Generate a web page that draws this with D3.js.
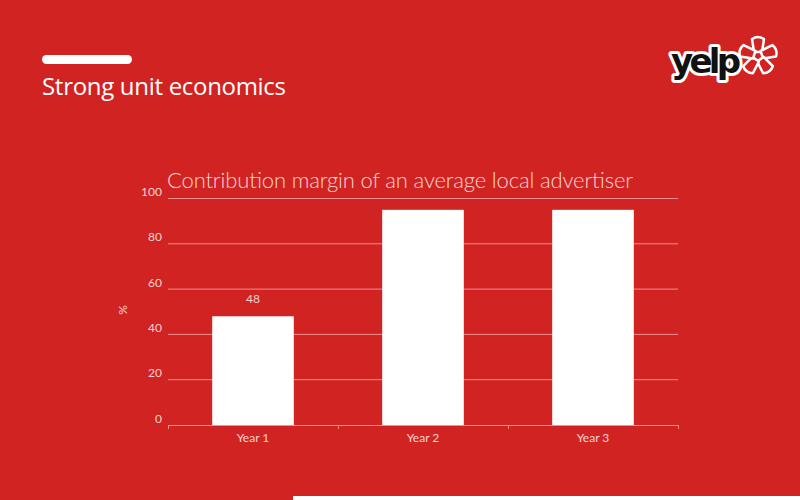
<!DOCTYPE html>
<html><head><meta charset="utf-8">
<script src="https://cdn.jsdelivr.net/npm/d3@7"></script>
<style>body{margin:0;background:#d22323;}svg{display:block;}</style>
</head><body>
<svg id="c" width="800" height="500"></svg>
<script>
const categories = ["Year 1", "Year 2", "Year 3"];
const values = [48, 95, 95];
const yTicks = [0, 20, 40, 60, 80, 100];
const pageTitle = "Strong unit economics";
const chartTitle = "Contribution margin of an average local advertiser";
const yLabel = "%";

const svg = d3.select("#c");
const W = 800, H = 500;
svg.append("rect").attr("width", W).attr("height", H).attr("fill", "#d22323");

// header bar + title
svg.append("rect").attr("x", 42).attr("y", 55).attr("width", 90).attr("height", 9).attr("rx", 4.5).attr("fill", "#fff");
svg.append("text").attr("x", 42).attr("y", 95).attr("fill", "#fff")
  .attr("font-family", "'Open Sans', sans-serif").attr("font-size", 24).attr("font-weight", 400)
  .attr("textLength", 244).text(pageTitle);

// bottom white strip
svg.append("rect").attr("x", 293).attr("y", 496).attr("width", 507).attr("height", 4).attr("fill", "#fff");

// logo
const logo = svg.append("g");
logo.append("text").attr("x", 671).attr("y", 73).attr("font-family", "'DejaVu Sans', sans-serif")
  .attr("font-weight", 700).attr("font-size", 34).attr("fill", "none").attr("stroke", "#fff")
  .attr("stroke-width", 6).attr("stroke-linejoin", "round").attr("textLength", 70).text("yelp");
logo.append("text").attr("x", 671).attr("y", 73).attr("font-family", "'DejaVu Sans', sans-serif")
  .attr("font-weight", 700).attr("font-size", 34).attr("fill", "#111").attr("textLength", 70).text("yelp");
const bx = 758, by = 56;
[-90, -18, 54, 126, 198].forEach((a) => {
  const g = logo.append("g").attr("transform", `translate(${bx},${by}) rotate(${a})`);
  g.append("path").attr("d", "M4,-4 L17,-6 Q21,0 17,6 L4,4 Z")
    .attr("fill", "#d22323").attr("stroke", "#fff").attr("stroke-width", 2.5).attr("stroke-linejoin", "round");
});

// chart
const x = d3.scaleBand().domain(categories).range([168, 678]).paddingInner(0.52).paddingOuter(0.26);
const y = d3.scaleLinear().domain([0, 100]).range([425, 198.5]);

const textCol = "#f6d3d3";
const font = "Lato, 'Open Sans', sans-serif";

svg.append("text").attr("x", 167).attr("y", 188).attr("fill", textCol)
  .attr("font-family", font).attr("font-weight", 300).attr("font-size", 22)
  .attr("textLength", 466).text(chartTitle);

// gridlines
svg.append("g").selectAll("line").data(yTicks.filter(t => t > 0)).join("line")
  .attr("x1", 168).attr("x2", 678).attr("y1", d => y(d)).attr("y2", d => y(d))
  .attr("stroke", "#ec8f8f").attr("stroke-width", 1);

// y axis labels
const yAxis = d3.axisLeft(y).tickValues(yTicks).tickSize(0).tickPadding(6);
const ya = svg.append("g").attr("transform", "translate(168,0)").call(yAxis);
ya.select(".domain").remove();
ya.selectAll("text").attr("fill", textCol).attr("font-family", font).attr("font-size", 12).attr("dy", "-0.25em");

// y label
svg.append("text").attr("transform", "translate(127,310) rotate(-90)").attr("text-anchor", "middle")
  .attr("fill", textCol).attr("font-family", font).attr("font-size", 12).text(yLabel);

// value labels (drawn under bars; clamped to plot top so they sit behind tall bars, as in the original)
svg.append("g").selectAll("text").data(values).join("text")
  .attr("x", (d, i) => x(categories[i]) + x.bandwidth() / 2)
  .attr("y", d => Math.max(y(d) - 13, y(100) + 24))
  .attr("text-anchor", "middle").attr("fill", textCol).attr("font-family", font).attr("font-size", 12)
  .text(d => d);

// bars
svg.append("g").selectAll("rect").data(values).join("rect")
  .attr("x", (d, i) => x(categories[i])).attr("width", x.bandwidth())
  .attr("y", d => y(d)).attr("height", d => y(0) - y(d)).attr("fill", "#fff");

// x axis
const xb = d3.scaleBand().domain(categories).range([168, 678]);
const xAxis = d3.axisBottom(xb).tickSize(5).tickSizeOuter(5).tickPadding(3);
const xa = svg.append("g").attr("transform", "translate(0,425)").call(xAxis);
xa.select(".domain").attr("stroke", "#ec8f8f").attr("d", "M168.5,4V0.5H678.5V4");
xa.selectAll(".tick line").remove();
xa.selectAll("line.b").data([168, 338, 508, 678]).join("line").attr("class", "b")
  .attr("x1", d => d + 0.5).attr("x2", d => d + 0.5).attr("y1", 0).attr("y2", 4).attr("stroke", "#ec8f8f");
xa.selectAll("text").attr("fill", textCol).attr("font-family", font).attr("font-size", 12);
</script>
</body></html>
